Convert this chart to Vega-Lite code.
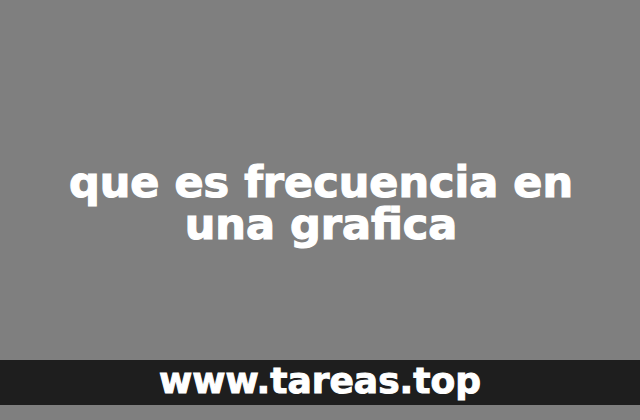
{
  "$schema": "https://vega.github.io/schema/vega-lite/v6.json",
  "autosize": {"type": "fit", "contains": "padding"},
  "width": 640,
  "height": 420,
  "padding": 0,
  "background": "#7f7f7f",
  "config": {"view": {"stroke": null}},
  "encoding": {
    "x": {"field": "x", "type": "quantitative", "scale": {"domain": [0, 640], "nice": false, "zero": false}, "axis": null},
    "y": {"field": "y", "type": "quantitative", "scale": {"domain": [420, 0], "nice": false, "zero": false}, "axis": null}
  },
  "layer": [
    {
      "data": {"values": [{"band": "footer", "x": 0, "x2": 640, "y": 360, "y2": 405}]},
      "mark": {"type": "rect", "color": "#1e1e1e"},
      "encoding": {
        "x2": {"field": "x2"},
        "y2": {"field": "y2"}
      }
    },
    {
      "data": {"values": [
        {"label": "que es frecuencia en", "x": 321, "y": 197},
        {"label": "una grafica", "x": 321, "y": 239}
      ]},
      "mark": {"type": "text", "color": "white", "stroke": "white", "strokeWidth": 1.2, "font": "DejaVu Sans", "fontWeight": "bold", "fontSize": 43, "align": "center", "baseline": "alphabetic"},
      "encoding": {"text": {"field": "label"}}
    },
    {
      "data": {"values": [{"label": "www.tareas.top", "x": 320, "y": 393}]},
      "mark": {"type": "text", "color": "white", "stroke": "white", "strokeWidth": 1, "font": "DejaVu Sans", "fontWeight": "bold", "fontSize": 36, "align": "center", "baseline": "alphabetic"},
      "encoding": {"text": {"field": "label"}}
    }
  ]
}
